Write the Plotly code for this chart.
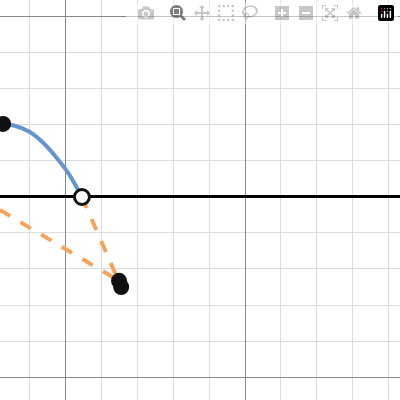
import plotly.graph_objects as go

blue_x = [3.28, 3.6, 4.0, 4.4, 4.8, 5.1, 5.47]
blue_y = [2.03, 1.98, 1.82, 1.5, 1.05, 0.65, 0.0]
dash1_x = [3.19, 6.5]
dash1_y = [-0.36, -2.33]
dash2_x = [5.47, 6.56]
dash2_y = [0.0, -2.5]
filled_x = [3.28, 6.5, 6.56]
filled_y = [2.03, -2.33, -2.5]
open_x = [5.47]
open_y = [0.0]

fig = go.Figure()
fig.add_trace(go.Scatter(x=blue_x, y=blue_y, mode="lines", line=dict(color="#6495cd", width=4, shape="spline")))
fig.add_trace(go.Scatter(x=dash1_x, y=dash1_y, mode="lines", line=dict(color="#f7a35c", width=4, dash="dash")))
fig.add_trace(go.Scatter(x=dash2_x, y=dash2_y, mode="lines", line=dict(color="#f7a35c", width=4, dash="dash")))
fig.add_trace(go.Scatter(x=filled_x, y=filled_y, mode="markers", marker=dict(color="#111", size=16)))
fig.add_trace(go.Scatter(x=open_x, y=open_y, mode="markers", marker=dict(color="white", size=15, line=dict(color="#111", width=3))))

ax = dict(showticklabels=False, ticks="", gridcolor="#888", gridwidth=1, dtick=5, tick0=0,
          minor=dict(dtick=1, gridcolor="#ddd", showgrid=True), showline=False)
fig.update_layout(width=400, height=400, margin=dict(l=0, r=0, t=0, b=0), showlegend=False,
                  plot_bgcolor="white", paper_bgcolor="white",
                  xaxis=dict(ax, range=[3.194, 14.306], zeroline=False),
                  yaxis=dict(ax, range=[-5.639, 5.472], zeroline=True, zerolinecolor="black", zerolinewidth=3))
fig.write_html("out.html", post_script="document.body.style.margin='0';document.body.style.overflow='hidden';")
